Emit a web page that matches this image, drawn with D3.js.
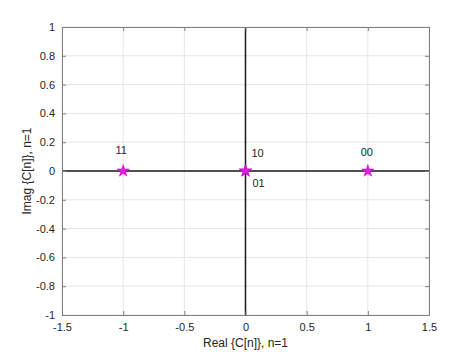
<!DOCTYPE html>
<html><head><meta charset="utf-8">
<script src="https://cdn.jsdelivr.net/npm/d3@7"></script>
<style>body{margin:0;background:#fff}svg{display:block}text{font-family:Arial,"Liberation Sans",sans-serif;fill:#262626}</style>
</head><body>
<script>
const pointLabels = ["00", "01", "10", "11"];
const realVals = [1, 0, 0, -1];
const imagVals = [0, 0, 0, 0];
const labelDx = [-1, 13, 12, -2];
const labelDy = [0.13, -0.083, 0.125, 0.146];
const xTicks = [-1.5, -1, -0.5, 0, 0.5, 1, 1.5];
const yTicks = [-1, -0.8, -0.6, -0.4, -0.2, 0, 0.2, 0.4, 0.6, 0.8, 1];
const xLabel = "Real {C[n]}, n=1";
const yLabel = "Imag {C[n]}, n=1";

const W = 474, H = 355;
const m = {l: 62, r: 45, t: 27, b: 40};
const svg = d3.select("body").append("svg").attr("width", W).attr("height", H);
const x = d3.scaleLinear().domain([-1.5, 1.5]).range([m.l, W - m.r]);
const y = d3.scaleLinear().domain([-1, 1]).range([H - m.b, m.t]);

// grid
svg.append("g").selectAll("line").data(xTicks).join("line")
  .attr("x1", d => x(d)).attr("x2", d => x(d)).attr("y1", y(-1)).attr("y2", y(1))
  .attr("stroke", "#e6e6e6").attr("stroke-width", 1);
svg.append("g").selectAll("line").data(yTicks).join("line")
  .attr("y1", d => y(d)).attr("y2", d => y(d)).attr("x1", x(-1.5)).attr("x2", x(1.5))
  .attr("stroke", "#e6e6e6").attr("stroke-width", 1);

// zero lines
svg.append("line").attr("x1", x(-1.5)).attr("x2", x(1.5)).attr("y1", y(0)).attr("y2", y(0))
  .attr("stroke", "#1a1a1a").attr("stroke-width", 1.5);
svg.append("line").attr("x1", x(0)).attr("x2", x(0)).attr("y1", y(-1)).attr("y2", y(1))
  .attr("stroke", "#1a1a1a").attr("stroke-width", 1.5);

// axes
const fmt = d => d3.format("~g")(d).replace("\u2212", "-");
const axStyle = g => {
  g.select(".domain").attr("stroke", "#808080");
  g.selectAll(".tick line").attr("stroke", "#808080");
  g.selectAll(".tick text").attr("font-size", 11).attr("fill", "#262626")
    .attr("font-family", "Arial, 'Liberation Sans', sans-serif");
};
svg.append("g").attr("transform", `translate(0,${y(-1)})`)
  .call(d3.axisBottom(x).tickValues(xTicks).tickFormat(fmt).tickSize(-4).tickPadding(8).tickSizeOuter(0))
  .call(axStyle);
svg.append("g").attr("transform", `translate(0,${y(1)})`)
  .call(d3.axisTop(x).tickValues(xTicks).tickFormat("").tickSize(-4).tickSizeOuter(0))
  .call(axStyle);
svg.append("g").attr("transform", `translate(${x(-1.5)},0)`)
  .call(d3.axisLeft(y).tickValues(yTicks).tickFormat(fmt).tickSize(-4).tickPadding(7).tickSizeOuter(0))
  .call(axStyle);
svg.append("g").attr("transform", `translate(${x(1.5)},0)`)
  .call(d3.axisRight(y).tickValues(yTicks).tickFormat("").tickSize(-4).tickSizeOuter(0))
  .call(axStyle);

// points
const pts = pointLabels.map((l, i) => ({l, re: realVals[i], im: imagVals[i], dx: labelDx[i], dy: labelDy[i]}));
svg.append("g").selectAll("path").data(pts).join("path")
  .attr("transform", d => `translate(${x(d.re)},${y(d.im)})`)
  .attr("d", d3.symbol(d3.symbolStar, 45))
  .attr("fill", "#e020e0").attr("stroke", "#cc00cc").attr("stroke-width", 0.6);
svg.append("g").selectAll("text").data(pts).join("text")
  .attr("x", d => x(d.re) + d.dx).attr("y", d => y(d.im + d.dy) + 4)
  .attr("text-anchor", "middle").attr("font-size", 11).text(d => d.l);

// labels
svg.append("text").attr("x", x(0)).attr("y", 347).attr("text-anchor", "middle")
  .attr("font-size", 12).text(xLabel);
svg.append("text").attr("transform", `translate(31,${y(0)}) rotate(-90)`).attr("text-anchor", "middle")
  .attr("font-size", 12).text(yLabel);
</script>
</body></html>
